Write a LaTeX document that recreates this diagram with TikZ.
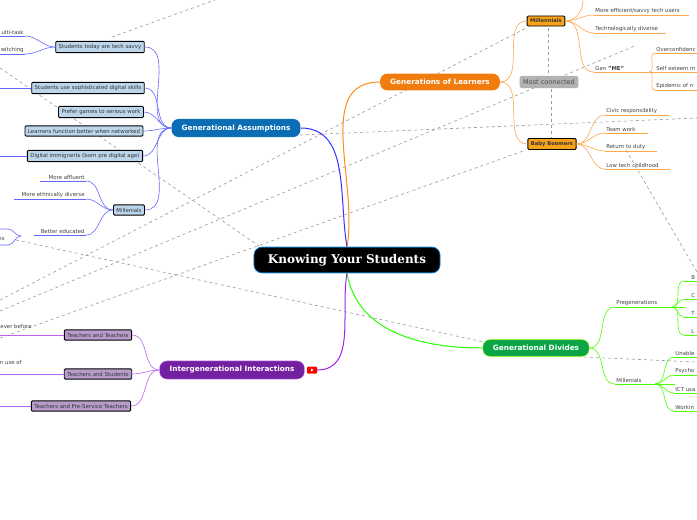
\documentclass[tikz,border=0pt]{standalone}
\usepackage{fontspec}
\setmainfont{DejaVu Sans}
\newfontfamily\titlefont{DejaVu Serif}
\usetikzlibrary{calc}
\begin{document}
\begin{tikzpicture}[x=1pt,y=-1pt,
  every node/.style={font=\fontsize{5.4}{6.5}\selectfont},
  box/.style={draw=black,line width=0.9pt,rounded corners=1pt,inner xsep=3pt,inner ysep=3pt,text=black!80},
  main/.style={rounded corners=7pt,inner xsep=10pt,inner ysep=5.5pt,text=white,font=\fontsize{7.3}{8.5}\selectfont\bfseries},
  leaf/.style={anchor=south west,inner sep=1.2pt,text=black!75},
  dlink/.style={draw=gray!80,dashed,line width=0.6pt},
  oc/.style={draw=orange!70,line width=0.6pt},
  bc/.style={draw=blue!60,line width=0.6pt},
  gc/.style={draw=green!60!lime,line width=0.6pt},
  pc/.style={draw=vio!70,line width=0.6pt}]
\definecolor{lb}{HTML}{BBD5EA}
\definecolor{lp}{HTML}{B79BCB}
\definecolor{org}{HTML}{F7A21B}
\definecolor{gab}{HTML}{0B6EB5}
\definecolor{gdg}{HTML}{0BA548}
\definecolor{iip}{HTML}{7321A0}
\definecolor{glo}{HTML}{F07C0E}
\definecolor{vio}{HTML}{A020F0}
\useasboundingbox (0,0) rectangle (697,520);
% dashed cross links
\draw[dlink] (0,68) -- (262,248);
\draw[dlink] (0,300) -- (526,28);
\draw[dlink] (0,311) -- (637,45);
\draw[dlink] (0,338) -- (526,150);
\draw[dlink] (16,240) -- (484,342);
\draw[dlink] (300,135) -- (697,118);
\draw[dlink] (560,356) -- (697,362);
\draw[dlink] (626,150) -- (697,272);
\draw[dlink] (112,37) -- (215,0);
\draw[dlink] (548,28) -- (548,75);
\draw[dlink] (551,89) -- (551,138);
% central
\node[fill=black,draw=cyan!60!blue,line width=0.8pt,rounded corners=8pt,inner xsep=14pt,inner ysep=7pt,text=white,font=\titlefont\fontsize{12}{13}\selectfont\bfseries] (c) at (347,260) {Knowing Your Students};
% Generations of learners
\node[main,fill=glo] (gl) at (440,82) {Generations of Learners};
\node[box,fill=org,font=\fontsize{5.2}{6}\selectfont\bfseries] (mil) at (546,21) {Millennials};
\node[box,fill=org,font=\fontsize{5.2}{6}\selectfont\bfseries] (bb) at (552,144) {Baby Boomers};
\node[fill=gray!60,rounded corners=2pt,inner sep=3.5pt,text=black!70,font=\fontsize{6.5}{7.5}\selectfont] (mc) at (549,82) {Most connected};
\draw[draw=orange!90,line width=1pt] (c.north) to[out=80,in=180] (gl.west);
\draw[oc] (gl.east) to[out=0,in=180] (mil.west);
\draw[oc] (gl.east) to[out=0,in=180] (bb.west);
\node[leaf] (m1) at (594,15) {More efficient/savvy tech users};
\node[leaf] (m2) at (594,33) {Technologically diverse};
\node[leaf] (m3) at (594,72) {Gen \textbf{"ME"}};
\draw[oc] (583,0) to[out=-90,in=0] (mil.east);
\draw[oc] (m1.south west) -- ++(95,0); \draw[oc] (m2.south west) -- ++(72,0); \draw[oc] (m3.south west) -- ++(55,0);
\foreach \n in {m1,m2,m3}{\draw[oc] (mil.east) to[out=0,in=180] (\n.south west);}
\node[leaf] (e1) at (655,53) {Overconfidenc};
\node[leaf] (e2) at (655,72) {Self esteem m};
\node[leaf] (e3) at (655,90) {Epidemic of n};
\foreach \n in {e1,e2,e3}{\draw[oc] (\n.south west) -- ++(50,0); \draw[oc] (649,72) to[out=0,in=180] (\n.south west);}
\node[leaf] (b1) at (605,115) {Civic responsibility};
\node[leaf] (b2) at (605,133) {Team work};
\node[leaf] (b3) at (605,151) {Return to duty};
\node[leaf] (b4) at (605,169) {Low tech childhood};
\draw[oc] (b1.south west) -- ++(64,0); \draw[oc] (b2.south west) -- ++(43,0);
\draw[oc] (b3.south west) -- ++(52,0); \draw[oc] (b4.south west) -- ++(65,0);
\foreach \n in {b1,b2,b3,b4}{\draw[oc] (bb.east) to[out=0,in=180] (\n.south west);}
% Generational assumptions
\node[main,fill=gab] (ga) at (236,128) {Generational Assumptions};
\draw[draw=blue!80,line width=1pt] (c.north) to[out=100,in=0] (ga.east);
\node[box,fill=lb] (a1) at (100,47) {Students today are tech savvy};
\node[box,fill=lb] (a2) at (88,88) {Students use sophisticated digital skills};
\node[box,fill=lb] (a3) at (101,112) {Prefer games to serious work};
\node[box,fill=lb] (a4) at (84,131) {Learners function better when networked};
\node[box,fill=lb] (a5) at (85,156) {Digital immigrants (born pre digital age)};
\node[box,fill=lb] (a6) at (129,210) {Millenials};
\foreach \n in {a1,a2,a3,a4,a5,a6}{\draw[bc] (ga.west) to[out=180,in=0] (\n.east);}
\node[leaf,anchor=south east] (t1) at (25,36) {ulti-task};
\node[leaf,anchor=south east] (t2) at (25,54) {witching};
\draw[bc] (t1.south east) -- ++(-25,0); \draw[bc] (t2.south east) -- ++(-25,0);
\foreach \n in {t1,t2}{\draw[bc] (a1.west) to[out=180,in=0] (\n.south east);}
\draw[bc] (a2.west) -- (0,88); \draw[bc] (a5.west) -- (0,156);
\node[leaf,anchor=south east] (u1) at (86,181) {More affluent};
\node[leaf,anchor=south east] (u2) at (86,199) {More ethnically diverse};
\node[leaf,anchor=south east] (u3) at (86,235) {Better educated};
\draw[bc] (u1.south east) -- ++(-46,0); \draw[bc] (u2.south east) -- ++(-72,0); \draw[bc] (u3.south east) -- ++(-52,0);
\foreach \n in {u1,u2,u3}{\draw[bc] (a6.west) to[out=180,in=0] (\n.south east);}
\node[leaf,anchor=south east] (es) at (6,242) {es};
\draw[bc] (21,236) to[out=180,in=0] (8,229) -- (0,229);
\draw[bc] (21,236) to[out=180,in=0] (8,245) -- (0,245);
% Generational divides
\node[main,fill=gdg,draw=lime!80!green] (gd) at (536,348) {Generational Divides};
\draw[draw=green!80!lime,line width=1pt] (c.south) to[out=-80,in=180] (gd.west);
\node[leaf] (p) at (615,307) {Pregenerations};
\node[leaf] (q) at (615,384) {Millenials};
\draw[gc] (p.south west) -- ++(70,0); \draw[gc] (q.south west) -- ++(60,0);
\foreach \n in {p,q}{\draw[gc] (gd.east) to[out=0,in=180] (\n.south west);}
\foreach \y/\t in {281/B,299/C,317/T,335/L}{\node[leaf] at (690,\y) {\t}; \draw[gc] (684,\y) -- (697,\y); \draw[gc] (672,307) to[out=0,in=180] (684,\y);}
\foreach \y/\t in {357/Unable,375/Psycho,393/ICT usa,411/Workin}{\node[leaf] at (674,\y) {\t}; \draw[gc] (674,\y) -- (697,\y); \draw[gc] (655,384) to[out=0,in=180] (674,\y);}
% Intergenerational
\node[main,fill=iip,draw=vio!50] (ii) at (232,370) {Intergenerational Interactions};
\node[fill=red,rounded corners=1pt,inner sep=0pt,minimum width=10pt,minimum height=7pt] (yt) at (312,370) {};
\fill[white] ($(yt.center)+(-1,-1.5)$) -- ++(0,3) -- ++(2.5,-1.5) -- cycle;
\draw[draw=vio,line width=1pt] (c.south) to[out=-100,in=0] (yt.east);
\node[box,fill=lp] (i1) at (98,335) {Teachers and Teachers};
\node[box,fill=lp] (i2) at (98,374) {Teachers and Students};
\node[box,fill=lp] (i3) at (81,406) {Teachers and Pre-Service Teachers};
\foreach \n in {i1,i2,i3}{\draw[pc] (ii.west) to[out=180,in=0] (\n.east);}
\node[leaf,anchor=south east] at (33,330) {ever before};
\node[leaf,anchor=south east] at (23,366) {n use of};
\draw[pc] (i1.west) -- (0,335); \draw[pc] (i2.west) -- (0,374); \draw[pc] (i3.west) -- (0,406);
\end{tikzpicture}
\end{document}
